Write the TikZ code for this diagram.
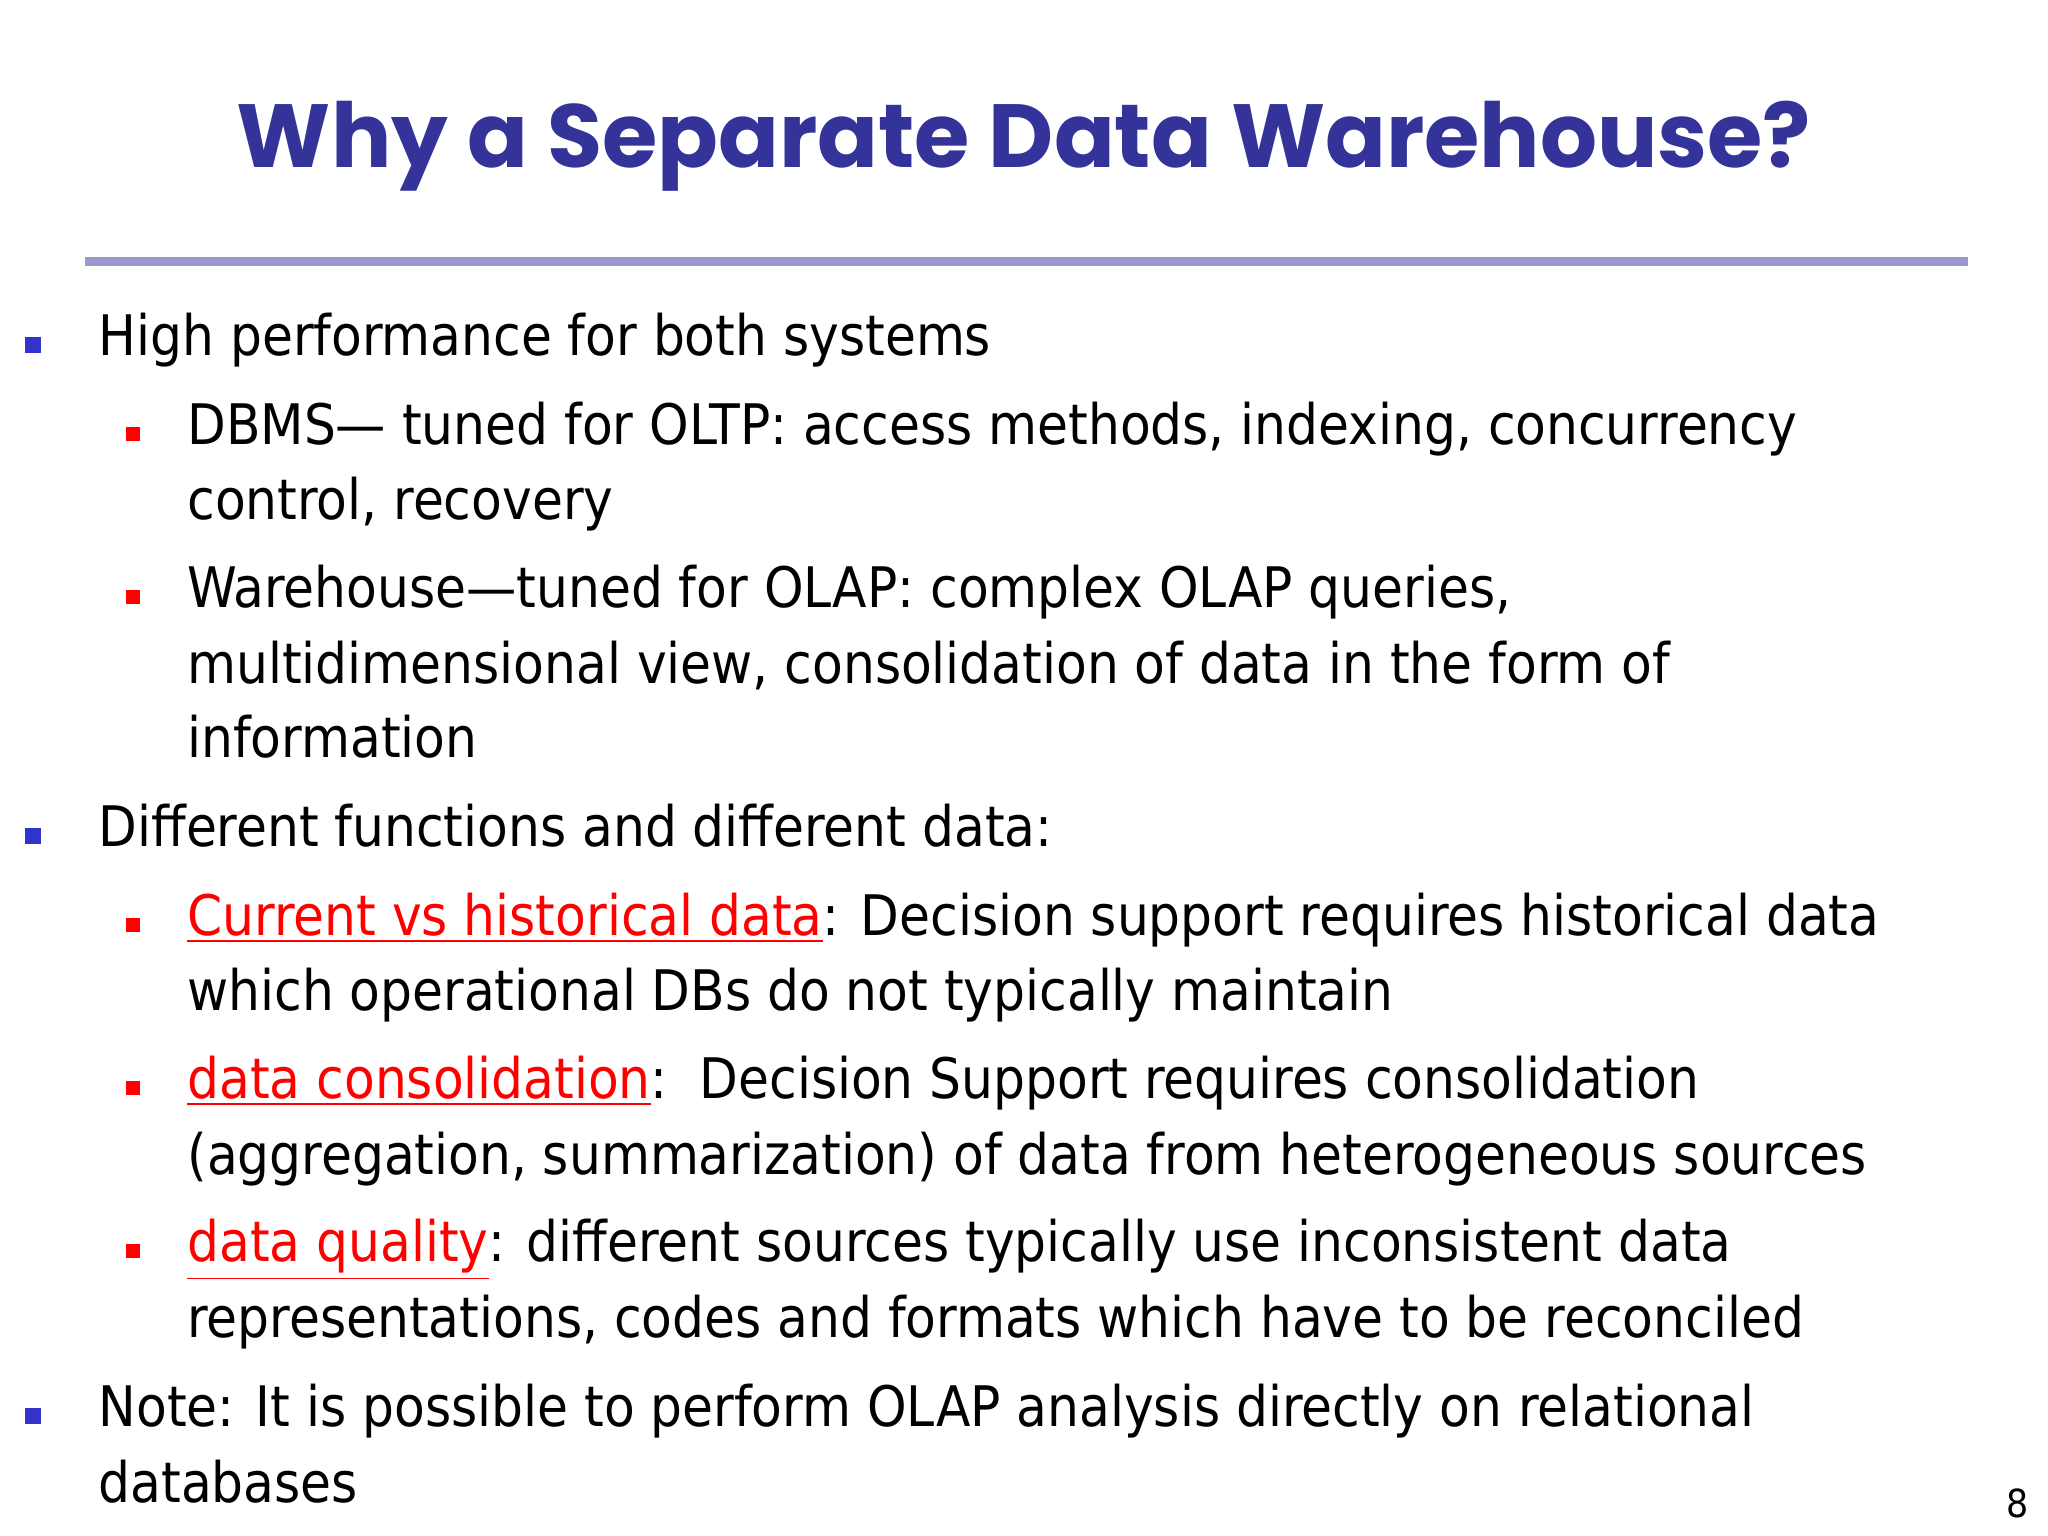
\documentclass[tikz,border=0pt]{standalone}
\usepackage{fontspec}
\setmainfont{DejaVu Sans Condensed}
\newfontfamily\titlefont{Poppins}[BoldFont=* Bold]
\definecolor{tblue}{HTML}{333399}
\definecolor{rulec}{HTML}{9999CC}
\definecolor{bblue}{HTML}{3333CC}
\definecolor{bred}{HTML}{FF0000}
\begin{document}
\begin{tikzpicture}[x=0.01306cm,y=-0.01306cm,
  txt/.style={anchor=base west,inner sep=0pt,font=\fontsize{15.9pt}{18pt}\selectfont},
  sqa/.style={fill=bblue,minimum size=0.16cm,inner sep=0pt},
  sqb/.style={fill=bred,minimum size=0.14cm,inner sep=0pt}]
\useasboundingbox (0,0) rectangle (1568,1176);
\node[inner sep=0pt,text=tblue,font=\titlefont\bfseries\fontsize{25.5pt}{30pt}\selectfont] (title) at (784,112) {Why a Separate Data Warehouse?};
\draw[rulec,line width=0.09cm] (65,200) coordinate (r1) -- (1507,200) coordinate (r2);
\newcommand\LA[3]{\node[sqa] (b#1) at (25,#2-8) {}; \node[txt] (t#1) at (75,#2) {#3};}
\newcommand\LB[3]{\node[sqb] (b#1) at (102,#2-8) {}; \node[txt] (t#1) at (143,#2) {#3};}
\newcommand\LC[3]{\node[txt] (t#1) at (143,#2) {#3};}
\LA{1}{272}{High performance for both systems}
\LB{2}{340}{DBMS— tuned for OLTP: access methods, indexing, concurrency}
\LC{3}{398}{control, recovery}
\LB{4}{465}{Warehouse—tuned for OLAP: complex OLAP queries,}
\LC{5}{523}{multidimensional view, consolidation of data in the form of}
\LC{6}{580}{information}
\LA{7}{648}{Different functions and different data:}
\LB{8}{716}{\textcolor{bred}{\underline{Current vs historical data}}: Decision support requires historical data}
\LC{9}{774}{which operational DBs do not typically maintain}
\LB{10}{841}{\textcolor{bred}{\underline{data consolidation}}:\ \ Decision Support requires consolidation}
\LC{11}{899}{(aggregation, summarization) of data from heterogeneous sources}
\LB{12}{966}{\textcolor{bred}{\underline{data quality}}: different sources typically use inconsistent data}
\LC{13}{1024}{representations, codes and formats which have to be reconciled}
\LA{14}{1092}{Note: It is possible to perform OLAP analysis directly on relational}
\node[txt] (t15) at (75,1150) {databases};
\node[anchor=base,inner sep=0pt,font=\fontsize{11pt}{12pt}\selectfont] (pg) at (1545,1162) {8};
\end{tikzpicture}
\end{document}
